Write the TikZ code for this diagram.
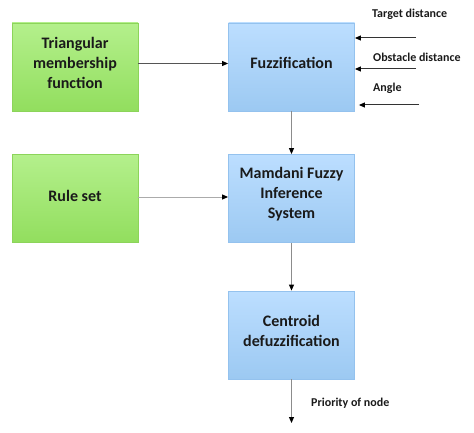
\documentclass[tikz,border=0pt]{standalone}
\usepackage{fontspec}
\setmainfont{Carlito}
\usetikzlibrary{arrows.meta}
\definecolor{gtop}{HTML}{B4F08C}
\definecolor{gbot}{HTML}{92DE5E}
\definecolor{gline}{HTML}{8CD45A}
\definecolor{btop}{HTML}{BCDEFF}
\definecolor{bbot}{HTML}{9CC9F2}
\definecolor{bline}{HTML}{94C2EE}
\definecolor{adark}{HTML}{555555}
\definecolor{amid}{HTML}{8C8C8C}
\definecolor{alight}{HTML}{ABABAB}
\definecolor{ablack}{HTML}{333333}
\definecolor{tcol}{HTML}{1A1A1A}
\tikzset{
  box/.style={minimum width=126pt, minimum height=88pt, inner sep=0pt, line width=0.8pt},
  gbox/.style={box, draw=gline, top color=gtop, bottom color=gbot},
  bbox/.style={box, draw=bline, top color=btop, bottom color=bbot},
  btxt/.style={align=center, inner sep=0pt, font=\fontsize{16}{20}\selectfont\bfseries, text=tcol},
  arr/.style={line width=1pt, -{Triangle[length=6pt,width=5pt,color=black]}},
  lbl/.style={anchor=west, inner sep=0pt, font=\fontsize{12}{14}\selectfont\bfseries, text=tcol}
}
\begin{document}
\begin{tikzpicture}[x=1pt,y=1pt]
\useasboundingbox (0,0) rectangle (474,-433);
\node[gbox] (tri) at (75,-67) {};
\node[bbox] (fuzz) at (291.5,-67) {};
\node[gbox] (rule) at (75,-198.5) {};
\node[bbox] (mam) at (291.5,-198.5) {};
\node[bbox] (cen) at (291.5,-335) {};
\node[btxt] (tri-t) at ([yshift=4pt]tri.center) {Triangular\\membership\\function};
\node[btxt] (fuzz-t) at ([yshift=4pt]fuzz.center) {Fuzzification};
\node[btxt] (rule-t) at ([yshift=3pt]rule.center) {Rule set};
\node[btxt] (mam-t) at ([yshift=4pt]mam.center) {Mamdani Fuzzy\\Inference\\System};
\node[btxt] (cen-t) at ([yshift=4pt]cen.center) {Centroid\\defuzzification};
\coordinate (in1) at (416,-38);
\coordinate (in2) at (416,-69);
\coordinate (in3) at (419,-105);
\coordinate (out) at (291.5,-423);
\node[lbl] (l1) at (372,-14) {Target distance};
\node[lbl] (l2) at (373,-57) {Obstacle distance};
\node[lbl] (l3) at (373,-88) {Angle};
\node[lbl] (l4) at (311,-403) {Priority of node};
\draw[arr, draw=adark] ([yshift=3.5pt]tri.east) -- ([yshift=3.5pt]fuzz.west);
\draw[arr, draw=alight] ([yshift=1.5pt]rule.east) -- ([yshift=1.5pt]mam.west);
\draw[arr, draw=amid] (fuzz.south) -- (mam.north);
\draw[arr, draw=amid] (mam.south) -- (cen.north);
\draw[arr, draw=amid] (cen.south) -- (out);
\draw[arr, draw=ablack] (in1) -- (fuzz.east |- in1);
\draw[arr, draw=ablack] (in2) -- (fuzz.east |- in2);
\draw[arr, draw=ablack] (in3) -- ([xshift=4pt]fuzz.east |- in3);
\end{tikzpicture}
\end{document}
